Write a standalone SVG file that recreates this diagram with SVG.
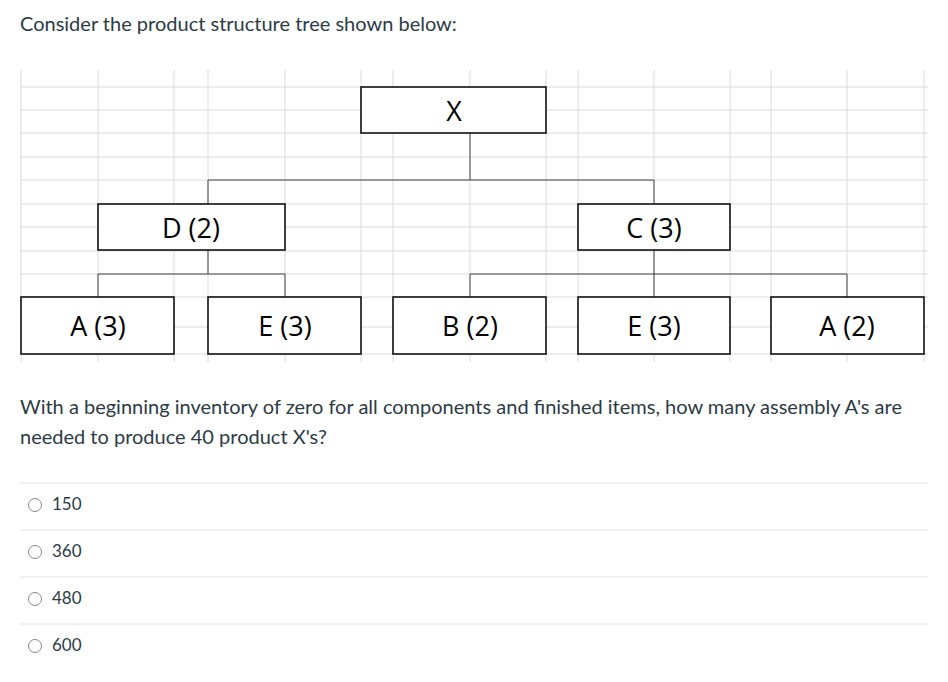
<svg xmlns="http://www.w3.org/2000/svg" width="948" height="682" viewBox="0 0 948 682">
<style>
.g{stroke:#dadada;stroke-width:1;fill:none}
.b{fill:#fff;stroke:#111;stroke-width:1.6}
.c{stroke:#444;stroke-width:1;fill:none}
.l{font-family:"Open Sans",sans-serif;font-size:27px;fill:#000;text-anchor:middle}
.q{font-family:Lato,"Liberation Sans",sans-serif;font-size:20px;fill:#2d3b45}
.o{font-family:Lato,"Liberation Sans",sans-serif;font-size:17px;fill:#2d3b45}
.r{fill:#fff;stroke:#888;stroke-width:1}
.s{stroke:#e2e2e2;stroke-width:1}
</style>
<rect width="948" height="682" fill="#fff"/>
<text class="q" x="20" y="31">Consider the product structure tree shown below:</text>
<g id="grid">
<path class="g" d="M21 70V362M98 70V362M174 70V362M208 70V362M285 70V362M361 70V362M393 70V362M470 70V362M546 70V362M578 70V362M654 70V362M730 70V362M771 70V362M847 70V362M924 70V362"/>
<path class="g" d="M21 87H928M21 110H928M21 133H928M21 157H928M21 180H928M21 204H928M21 227H928M21 251H928M21 274H928M21 297H928M21 327H928M21 354H928"/>
</g>
<g id="connectors">
<path class="c" d="M470 133V180M208 180H654M208 180V204M654 180V204"/>
<path class="c" d="M208 250V274M98 274H285M98 274V297M285 274V297"/>
<path class="c" d="M654 250V297M470 274H847M470 274V297M847 274V297"/>
</g>
<g id="X"><rect class="b" x="361" y="87" width="185" height="46"/><text class="l" x="454" y="121">X</text></g>
<g id="D"><rect class="b" x="98" y="204" width="187" height="46"/><text class="l" x="191" y="238">D (2)</text></g>
<g id="C"><rect class="b" x="578" y="204" width="152" height="46"/><text class="l" x="654" y="238">C (3)</text></g>
<g id="A1"><rect class="b" x="21" y="297" width="153" height="57"/><text class="l" x="98" y="336">A (3)</text></g>
<g id="E1"><rect class="b" x="208" y="297" width="153" height="57"/><text class="l" x="285" y="336">E (3)</text></g>
<g id="B"><rect class="b" x="393" y="297" width="153" height="57"/><text class="l" x="470" y="336">B (2)</text></g>
<g id="E2"><rect class="b" x="578" y="297" width="152" height="57"/><text class="l" x="654" y="336">E (3)</text></g>
<g id="A2"><rect class="b" x="771" y="297" width="153" height="57"/><text class="l" x="847" y="336">A (2)</text></g>
<text class="q" x="20" y="414">With a beginning inventory of zero for all components and finished items, how many assembly A's are</text>
<text class="q" x="20" y="444">needed to produce 40 product X's?</text>
<g id="options">
<line class="s" x1="20" y1="483" x2="928" y2="483"/>
<circle class="r" cx="35" cy="505" r="6.5"/><text class="o" x="52" y="510">150</text>
<line class="s" x1="20" y1="530" x2="928" y2="530"/>
<circle class="r" cx="35" cy="552" r="6.5"/><text class="o" x="52" y="557">360</text>
<line class="s" x1="20" y1="577" x2="928" y2="577"/>
<circle class="r" cx="35" cy="599" r="6.5"/><text class="o" x="52" y="604">480</text>
<line class="s" x1="20" y1="624" x2="928" y2="624"/>
<circle class="r" cx="35" cy="646" r="6.5"/><text class="o" x="52" y="651">600</text>
</g>
</svg>
